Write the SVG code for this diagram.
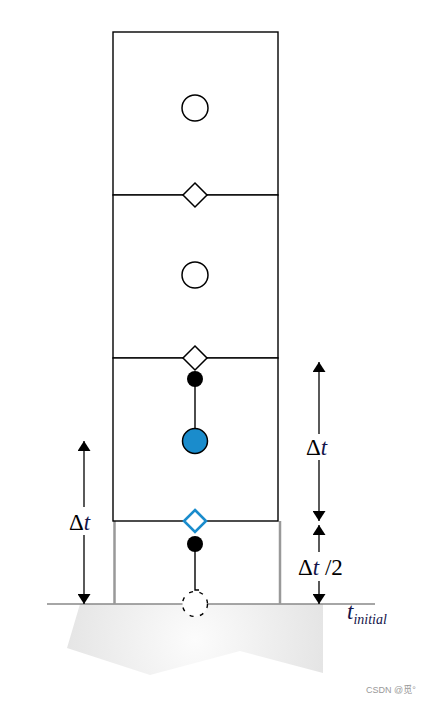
<svg xmlns="http://www.w3.org/2000/svg" width="432" height="704" viewBox="0 0 432 704">
<style>
.cell{fill:#fff;stroke:#000;stroke-width:1.4}
.node{fill:#fff;stroke:#000;stroke-width:1.5}
.dim{stroke:#000;stroke-width:1.3;fill:none}
.lbl{font-family:"Liberation Serif",serif;font-size:23px;fill:#000}
.it{font-style:italic;fill:#14144a}
</style>
<defs>
<marker id="ah" viewBox="0 0 10 10" refX="10" refY="5" markerWidth="10" markerHeight="13" preserveAspectRatio="none" markerUnits="userSpaceOnUse" orient="auto-start-reverse">
<path d="M0,0 L10,5 L0,10 z" fill="#000"/>
</marker>
<radialGradient id="gnd" cx="195" cy="640" r="140" gradientUnits="userSpaceOnUse">
<stop offset="0" stop-color="#fcfcfc"/>
<stop offset="1" stop-color="#e3e3e3"/>
</radialGradient>
</defs>
<g id="ground">
<polygon points="80,604 323,604 323,673 240,651 150,675 67,648" fill="url(#gnd)"/>
<line x1="47" y1="604" x2="375" y2="604" stroke="#888" stroke-width="1.5"/>
<line x1="114.5" y1="521" x2="114.5" y2="604" stroke="#999" stroke-width="2.5"/>
<line x1="280" y1="521" x2="280" y2="604" stroke="#999" stroke-width="2.5"/>
</g>
<g id="cells">
<rect class="cell" x="113" y="32" width="165" height="163"/>
<rect class="cell" x="113" y="195" width="165" height="163"/>
<rect class="cell" x="113" y="358" width="165" height="163"/>
</g>
<g id="connectors">
<line x1="195" y1="379" x2="195" y2="441" stroke="#000" stroke-width="1.4"/>
<polyline points="195,544 195,590 199,590" stroke="#000" stroke-width="1.4" fill="none"/>
<line class="dim" x1="319" y1="362" x2="319" y2="434" marker-start="url(#ah)"/>
<line class="dim" x1="319" y1="460" x2="319" y2="521" marker-end="url(#ah)"/>
<line class="dim" x1="319" y1="525" x2="319" y2="552" marker-start="url(#ah)"/>
<line class="dim" x1="319" y1="581" x2="319" y2="604" marker-end="url(#ah)"/>
<line class="dim" x1="84" y1="441" x2="84" y2="507" marker-start="url(#ah)"/>
<line class="dim" x1="84" y1="535" x2="84" y2="604" marker-end="url(#ah)"/>
</g>
<g id="n1"><circle class="node" cx="195" cy="108" r="13"/></g>
<g id="d1"><polygon class="node" points="195,183 207,195 195,207 183,195"/></g>
<g id="n2"><circle class="node" cx="195" cy="275" r="13"/></g>
<g id="d2"><polygon class="node" points="195,346 207,358 195,370 183,358"/></g>
<g id="p1"><circle cx="195" cy="379" r="8" fill="#000"/></g>
<g id="n3"><circle cx="195" cy="441" r="12.5" fill="#1a8ccc" stroke="#000" stroke-width="1.5"/></g>
<g id="d3"><polygon points="195,510 206,521 195,532 184,521" fill="#fff" stroke="#1a8ccc" stroke-width="2.6"/></g>
<g id="p2"><circle cx="195" cy="544" r="8" fill="#000"/></g>
<g id="n4"><circle cx="195" cy="604" r="12.5" fill="#fff" stroke="#000" stroke-width="1.4" stroke-dasharray="4,6.5"/></g>
<g id="labels">
<text class="lbl" x="306" y="455">Δ<tspan class="it">t</tspan></text>
<text class="lbl" x="298" y="575">Δ<tspan class="it">t</tspan> /2</text>
<text class="lbl" x="69" y="530">Δ<tspan class="it">t</tspan></text>
<text class="lbl it" x="347" y="619" font-size="23">t<tspan font-size="14" dy="5">initial</tspan></text>
</g>
<text x="366" y="693" font-family="Liberation Sans,'Noto Sans CJK SC',sans-serif" font-size="9" fill="#999">CSDN @觅°</text>
</svg>
